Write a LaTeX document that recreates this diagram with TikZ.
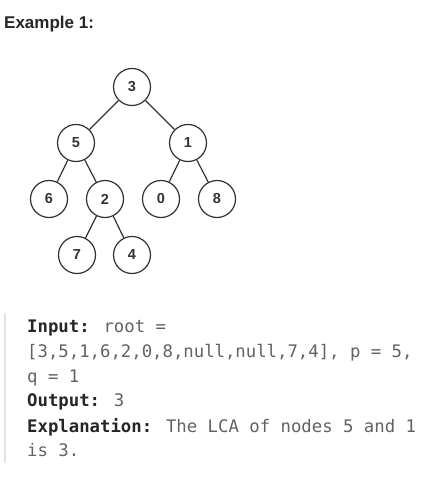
\documentclass[tikz,border=0pt]{standalone}
\usepackage{fontspec}
\setmainfont{Liberation Sans}
\newfontfamily\codefont{DejaVu Sans Mono}
\definecolor{edgec}{HTML}{333333}
\definecolor{valc}{HTML}{5F6368}
\definecolor{labc}{HTML}{262626}
\definecolor{barc}{HTML}{E3E3E3}
\begin{document}
\begin{tikzpicture}[x=1pt,y=-1pt,
  tnode/.style={circle,draw=edgec,line width=1.2pt,minimum size=37pt,inner sep=0pt,
    font=\fontsize{14.5}{14.5}\selectfont\bfseries,text=edgec},
  tedge/.style={draw=edgec,line width=1.2pt},
  codeline/.style={anchor=base west,inner sep=0pt,text=valc,font=\codefont\fontsize{17.3}{20}\selectfont}]
\useasboundingbox[fill=white] (0,0) rectangle (442,481);
\node[anchor=base west,inner sep=0pt,text=labc,font=\fontsize{17}{20}\selectfont\bfseries] (title) at (4,29) {Example 1:};
\node[tnode] (n3) at (132,87) {3};
\node[tnode] (n5) at (76,143) {5};
\node[tnode] (n1) at (188,143) {1};
\node[tnode] (n6) at (49,199) {6};
\node[tnode] (n2) at (105,199) {2};
\node[tnode] (n0) at (161,199) {0};
\node[tnode] (n8) at (217,199) {8};
\node[tnode] (n7) at (77,255) {7};
\node[tnode] (n4) at (132,255) {4};
\draw[tedge] (n3) -- (n5);
\draw[tedge] (n3) -- (n1);
\draw[tedge] (n5) -- (n6);
\draw[tedge] (n5) -- (n2);
\draw[tedge] (n1) -- (n0);
\draw[tedge] (n1) -- (n8);
\draw[tedge] (n2) -- (n7);
\draw[tedge] (n2) -- (n4);
\fill[barc] (4,313) rectangle (6,463);
\node[codeline] (l1) at (27,332) {\textcolor{labc}{\bfseries Input:} root =};
\node[codeline] (l2) at (27,357) {[3,5,1,6,2,0,8,null,null,7,4], p = 5,};
\node[codeline] (l3) at (27,382) {q = 1};
\node[codeline] (l4) at (27,406) {\textcolor{labc}{\bfseries Output:} 3};
\node[codeline] (l5) at (27,432) {\textcolor{labc}{\bfseries Explanation:} The LCA of nodes 5 and 1};
\node[codeline] (l6) at (27,456) {is 3.};
\end{tikzpicture}
\end{document}
